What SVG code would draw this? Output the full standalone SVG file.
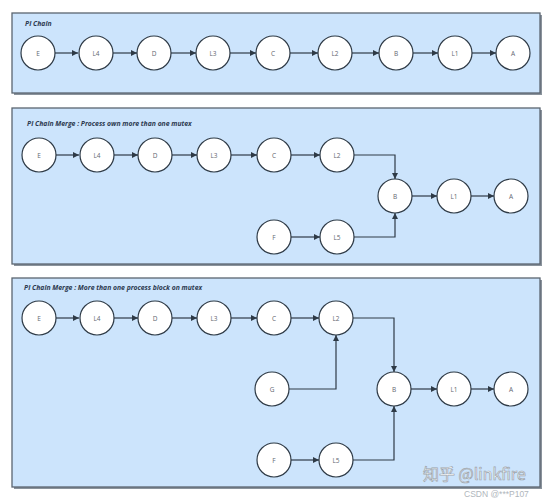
<svg xmlns="http://www.w3.org/2000/svg" width="553" height="500" viewBox="0 0 553 500">
<style>
.panel{fill:#cce4fc;stroke:#5b6570;stroke-width:1.3}
.shadow{fill:#8a939c}
.node circle{fill:#ffffff;stroke:#2e3a46;stroke-width:1.2}
.node text{font-family:"Open Sans","Liberation Sans",sans-serif;font-size:6.5px;fill:#5f6770;text-anchor:middle;dominant-baseline:central}
.title{font-family:"Open Sans","Liberation Sans",sans-serif;font-size:6.8px;font-weight:bold;font-style:italic;fill:#2c3a50}
.edges path{fill:none;stroke:#2e3a46;stroke-width:1.2;marker-end:url(#ah)}
.wm{font-family:"Noto Sans CJK SC","Liberation Sans",sans-serif;font-size:16px;fill:#ffffff;stroke:#9aa3ab;stroke-width:0.7}
.wm2{font-family:"Liberation Sans",sans-serif;font-size:8.5px;fill:#b0b6bc}
</style>
<defs>
<marker id="ah" viewBox="0 0 10 10" refX="10" refY="5" markerWidth="7" markerHeight="6" markerUnits="userSpaceOnUse" orient="auto">
<path d="M0,0 L10,5 L0,10 z" fill="#2e3a46"/>
</marker>
</defs>

<g id="panel1">
<rect class="shadow" x="14" y="15" width="528" height="80"/>
<rect class="panel" x="12" y="13" width="528" height="80"/>
<text class="title" x="25" y="26">PI Chain</text>
</g>
<g id="panel2">
<rect class="shadow" x="14" y="110" width="528" height="156"/>
<rect class="panel" x="12" y="108" width="528" height="156"/>
<text class="title" x="27" y="126">PI Chain Merge : Process own more than one mutex</text>
</g>
<g id="panel3">
<rect class="shadow" x="14" y="280" width="528" height="209"/>
<rect class="panel" x="12" y="278" width="528" height="209"/>
<text class="title" x="24" y="290">PI Chain Merge : More than one process block on mutex</text>
</g>

<g id="edges" class="edges">
<path d="M55,53 H78"/>
<path d="M113,53 H137"/>
<path d="M171,53 H196"/>
<path d="M230,53 H256"/>
<path d="M290,53 H318"/>
<path d="M352,53 H379"/>
<path d="M413,53 H438"/>
<path d="M472,53 H496"/>
<path d="M56,155 H79"/>
<path d="M114,155 H138"/>
<path d="M172,155 H197"/>
<path d="M231,155 H257"/>
<path d="M291,155 H320"/>
<path d="M354,155 H395 V179"/>
<path d="M291,237 H320"/>
<path d="M354,237 H395 V213"/>
<path d="M412,196 H437"/>
<path d="M471,196 H494"/>
<path d="M56,318 H79"/>
<path d="M114,318 H138"/>
<path d="M172,318 H197"/>
<path d="M231,318 H257"/>
<path d="M291,318 H319"/>
<path d="M353,318 H394 V372"/>
<path d="M289,389 H336 V335"/>
<path d="M291,460 H319"/>
<path d="M353,460 H394 V406"/>
<path d="M411,389 H437"/>
<path d="M471,389 H494"/>
</g>

<g id="p1-E" class="node"><circle cx="38" cy="53" r="17"/><text x="38" y="53">E</text></g>
<g id="p1-L4" class="node"><circle cx="96" cy="53" r="17"/><text x="96" y="53">L4</text></g>
<g id="p1-D" class="node"><circle cx="154" cy="53" r="17"/><text x="154" y="53">D</text></g>
<g id="p1-L3" class="node"><circle cx="213" cy="53" r="17"/><text x="213" y="53">L3</text></g>
<g id="p1-C" class="node"><circle cx="273" cy="53" r="17"/><text x="273" y="53">C</text></g>
<g id="p1-L2" class="node"><circle cx="335" cy="53" r="17"/><text x="335" y="53">L2</text></g>
<g id="p1-B" class="node"><circle cx="396" cy="53" r="17"/><text x="396" y="53">B</text></g>
<g id="p1-L1" class="node"><circle cx="455" cy="53" r="17"/><text x="455" y="53">L1</text></g>
<g id="p1-A" class="node"><circle cx="513" cy="53" r="17"/><text x="513" y="53">A</text></g>

<g id="p2-E" class="node"><circle cx="39" cy="155" r="17"/><text x="39" y="155">E</text></g>
<g id="p2-L4" class="node"><circle cx="97" cy="155" r="17"/><text x="97" y="155">L4</text></g>
<g id="p2-D" class="node"><circle cx="155" cy="155" r="17"/><text x="155" y="155">D</text></g>
<g id="p2-L3" class="node"><circle cx="214" cy="155" r="17"/><text x="214" y="155">L3</text></g>
<g id="p2-C" class="node"><circle cx="274" cy="155" r="17"/><text x="274" y="155">C</text></g>
<g id="p2-L2" class="node"><circle cx="337" cy="155" r="17"/><text x="337" y="155">L2</text></g>
<g id="p2-B" class="node"><circle cx="395" cy="196" r="17"/><text x="395" y="196">B</text></g>
<g id="p2-L1" class="node"><circle cx="454" cy="196" r="17"/><text x="454" y="196">L1</text></g>
<g id="p2-A" class="node"><circle cx="511" cy="196" r="17"/><text x="511" y="196">A</text></g>
<g id="p2-F" class="node"><circle cx="274" cy="237" r="17"/><text x="274" y="237">F</text></g>
<g id="p2-L5" class="node"><circle cx="337" cy="237" r="17"/><text x="337" y="237">L5</text></g>

<g id="p3-E" class="node"><circle cx="39" cy="318" r="17"/><text x="39" y="318">E</text></g>
<g id="p3-L4" class="node"><circle cx="97" cy="318" r="17"/><text x="97" y="318">L4</text></g>
<g id="p3-D" class="node"><circle cx="155" cy="318" r="17"/><text x="155" y="318">D</text></g>
<g id="p3-L3" class="node"><circle cx="214" cy="318" r="17"/><text x="214" y="318">L3</text></g>
<g id="p3-C" class="node"><circle cx="274" cy="318" r="17"/><text x="274" y="318">C</text></g>
<g id="p3-L2" class="node"><circle cx="336" cy="318" r="17"/><text x="336" y="318">L2</text></g>
<g id="p3-G" class="node"><circle cx="272" cy="389" r="17"/><text x="272" y="389">G</text></g>
<g id="p3-B" class="node"><circle cx="394" cy="389" r="17"/><text x="394" y="389">B</text></g>
<g id="p3-L1" class="node"><circle cx="454" cy="389" r="17"/><text x="454" y="389">L1</text></g>
<g id="p3-A" class="node"><circle cx="511" cy="389" r="17"/><text x="511" y="389">A</text></g>
<g id="p3-F" class="node"><circle cx="274" cy="460" r="17"/><text x="274" y="460">F</text></g>
<g id="p3-L5" class="node"><circle cx="336" cy="460" r="17"/><text x="336" y="460">L5</text></g>

<g id="watermark">
<text class="wm" x="423" y="480">知乎 @linkfire</text>
<text class="wm2" x="464" y="497">CSDN @***P107</text>
</g>
</svg>
